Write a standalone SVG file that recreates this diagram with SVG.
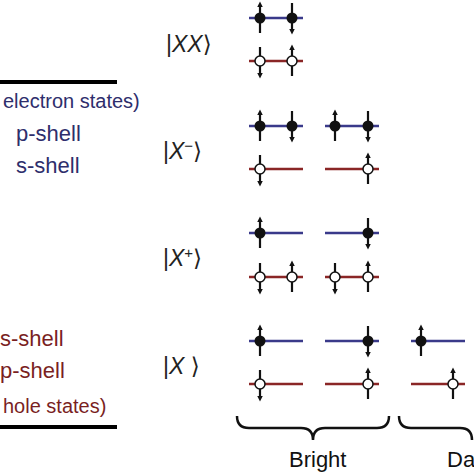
<svg xmlns="http://www.w3.org/2000/svg" width="474" height="474" viewBox="0 0 474 474">
<defs>
<marker id="ah" viewBox="0 0 6 6" refX="1" refY="3" markerWidth="5.5" markerHeight="5.5" markerUnits="userSpaceOnUse" orient="auto">
<path d="M0,0 L6,3 L0,6 z" fill="#111"/>
</marker>
</defs>
<style>
.bl{stroke:#3a3a8a;stroke-width:2.6;fill:none}
.rd{stroke:#8a2626;stroke-width:2.6;fill:none}
.sp{stroke:#111;stroke-width:2.2;marker-end:url(#ah)}
.e{fill:#111}
.h{fill:#fff;stroke:#111;stroke-width:1.5}
.lab{font-family:"Liberation Sans","DejaVu Sans",sans-serif;font-size:23px;fill:#222}
.lab .x{font-style:italic}
.et{font-family:"Liberation Sans",Arial,sans-serif;font-size:22px;fill:#2e2e6c}
.ht{font-family:"Liberation Sans",Arial,sans-serif;font-size:22px;fill:#7a1f1f}
.sm{font-size:20px}
.bt{font-family:"Liberation Sans",Arial,sans-serif;font-size:22px;fill:#111}
.bar{stroke:#000;stroke-width:4}
.br{stroke:#111;stroke-width:2.5;fill:none}
</style>

<g id="legend">
<line class="bar" x1="0" y1="82" x2="117" y2="82"/>
<text class="et sm" x="3" y="108">electron states)</text>
<text class="et" x="16" y="141">p-shell</text>
<text class="et" x="16" y="173">s-shell</text>
<text class="ht" x="0" y="346">s-shell</text>
<text class="ht" x="0" y="378">p-shell</text>
<text class="ht sm" x="3" y="413">hole states)</text>
<line class="bar" x1="0" y1="427" x2="117" y2="427"/>
</g>

<g id="labels">
<text class="lab" x="166" y="52">|<tspan class="x">XX</tspan>⟩</text>
<text class="lab" x="163" y="159">|<tspan class="x">X</tspan><tspan font-size="15" dy="-8">−</tspan><tspan dy="8">⟩</tspan></text>
<text class="lab" x="163" y="266">|<tspan class="x">X</tspan><tspan font-size="15" dy="-8">+</tspan><tspan dy="8">⟩</tspan></text>
<text class="lab" x="163" y="374">|<tspan class="x">X</tspan> ⟩</text>
</g>

<g id="connectors">
<path class="br" d="M237,416 Q237,428 249,428 L301,428 Q313,428 313,440 Q313,428 325,428 L377,428 Q389,428 389,416"/>
<path class="br" d="M399,416 Q399,428 411,428 L460,428 Q472,428 472,440"/>
</g>

<g id="bright-label"><text class="bt" x="289" y="467">Bright</text></g>
<g id="dark-label"><text class="bt" x="447" y="467">Da</text></g>

<g id="XX">
<line class="bl" x1="249" y1="18" x2="303" y2="18"/>
<line class="sp" x1="260" y1="33" x2="260" y2="6"/><circle class="e" cx="260" cy="18" r="5.5"/>
<line class="sp" x1="292" y1="3" x2="292" y2="30"/><circle class="e" cx="292" cy="18" r="5.5"/>
<line class="rd" x1="249" y1="61" x2="303" y2="61"/>
<line class="sp" x1="260" y1="47" x2="260" y2="74"/><circle class="h" cx="260" cy="61" r="5"/>
<line class="sp" x1="292" y1="76" x2="292" y2="49"/><circle class="h" cx="292" cy="61" r="5"/>
</g>

<g id="Xminus-1">
<line class="bl" x1="249" y1="126" x2="303" y2="126"/>
<line class="sp" x1="260" y1="141" x2="260" y2="114"/><circle class="e" cx="260" cy="126" r="5.5"/>
<line class="sp" x1="292" y1="111" x2="292" y2="138"/><circle class="e" cx="292" cy="126" r="5.5"/>
<line class="rd" x1="249" y1="169" x2="303" y2="169"/>
<line class="sp" x1="260" y1="155" x2="260" y2="182"/><circle class="h" cx="260" cy="169" r="5"/>
</g>
<g id="Xminus-2">
<line class="bl" x1="325" y1="126" x2="379" y2="126"/>
<line class="sp" x1="335" y1="141" x2="335" y2="114"/><circle class="e" cx="335" cy="126" r="5.5"/>
<line class="sp" x1="368" y1="111" x2="368" y2="138"/><circle class="e" cx="368" cy="126" r="5.5"/>
<line class="rd" x1="325" y1="169" x2="379" y2="169"/>
<line class="sp" x1="368" y1="184" x2="368" y2="157"/><circle class="h" cx="368" cy="169" r="5"/>
</g>

<g id="Xplus-1">
<line class="bl" x1="249" y1="233" x2="303" y2="233"/>
<line class="sp" x1="260" y1="248" x2="260" y2="221"/><circle class="e" cx="260" cy="233" r="5.5"/>
<line class="rd" x1="249" y1="277" x2="303" y2="277"/>
<line class="sp" x1="260" y1="263" x2="260" y2="290"/><circle class="h" cx="260" cy="277" r="5"/>
<line class="sp" x1="292" y1="292" x2="292" y2="265"/><circle class="h" cx="292" cy="277" r="5"/>
</g>
<g id="Xplus-2">
<line class="bl" x1="325" y1="233" x2="379" y2="233"/>
<line class="sp" x1="368" y1="218" x2="368" y2="245"/><circle class="e" cx="368" cy="233" r="5.5"/>
<line class="rd" x1="325" y1="277" x2="379" y2="277"/>
<line class="sp" x1="335" y1="263" x2="335" y2="290"/><circle class="h" cx="335" cy="277" r="5"/>
<line class="sp" x1="368" y1="292" x2="368" y2="265"/><circle class="h" cx="368" cy="277" r="5"/>
</g>

<g id="X-bright-1">
<line class="bl" x1="249" y1="341" x2="303" y2="341"/>
<line class="sp" x1="260" y1="356" x2="260" y2="329"/><circle class="e" cx="260" cy="341" r="5.5"/>
<line class="rd" x1="249" y1="384" x2="303" y2="384"/>
<line class="sp" x1="260" y1="370" x2="260" y2="397"/><circle class="h" cx="260" cy="384" r="5"/>
</g>
<g id="X-bright-2">
<line class="bl" x1="325" y1="341" x2="379" y2="341"/>
<line class="sp" x1="368" y1="326" x2="368" y2="353"/><circle class="e" cx="368" cy="341" r="5.5"/>
<line class="rd" x1="325" y1="384" x2="379" y2="384"/>
<line class="sp" x1="368" y1="399" x2="368" y2="372"/><circle class="h" cx="368" cy="384" r="5"/>
</g>
<g id="X-dark">
<line class="bl" x1="411" y1="341" x2="465" y2="341"/>
<line class="sp" x1="421" y1="356" x2="421" y2="329"/><circle class="e" cx="421" cy="341" r="5.5"/>
<line class="rd" x1="411" y1="384" x2="465" y2="384"/>
<line class="sp" x1="453" y1="399" x2="453" y2="372"/><circle class="h" cx="453" cy="384" r="5"/>
</g>
</svg>
